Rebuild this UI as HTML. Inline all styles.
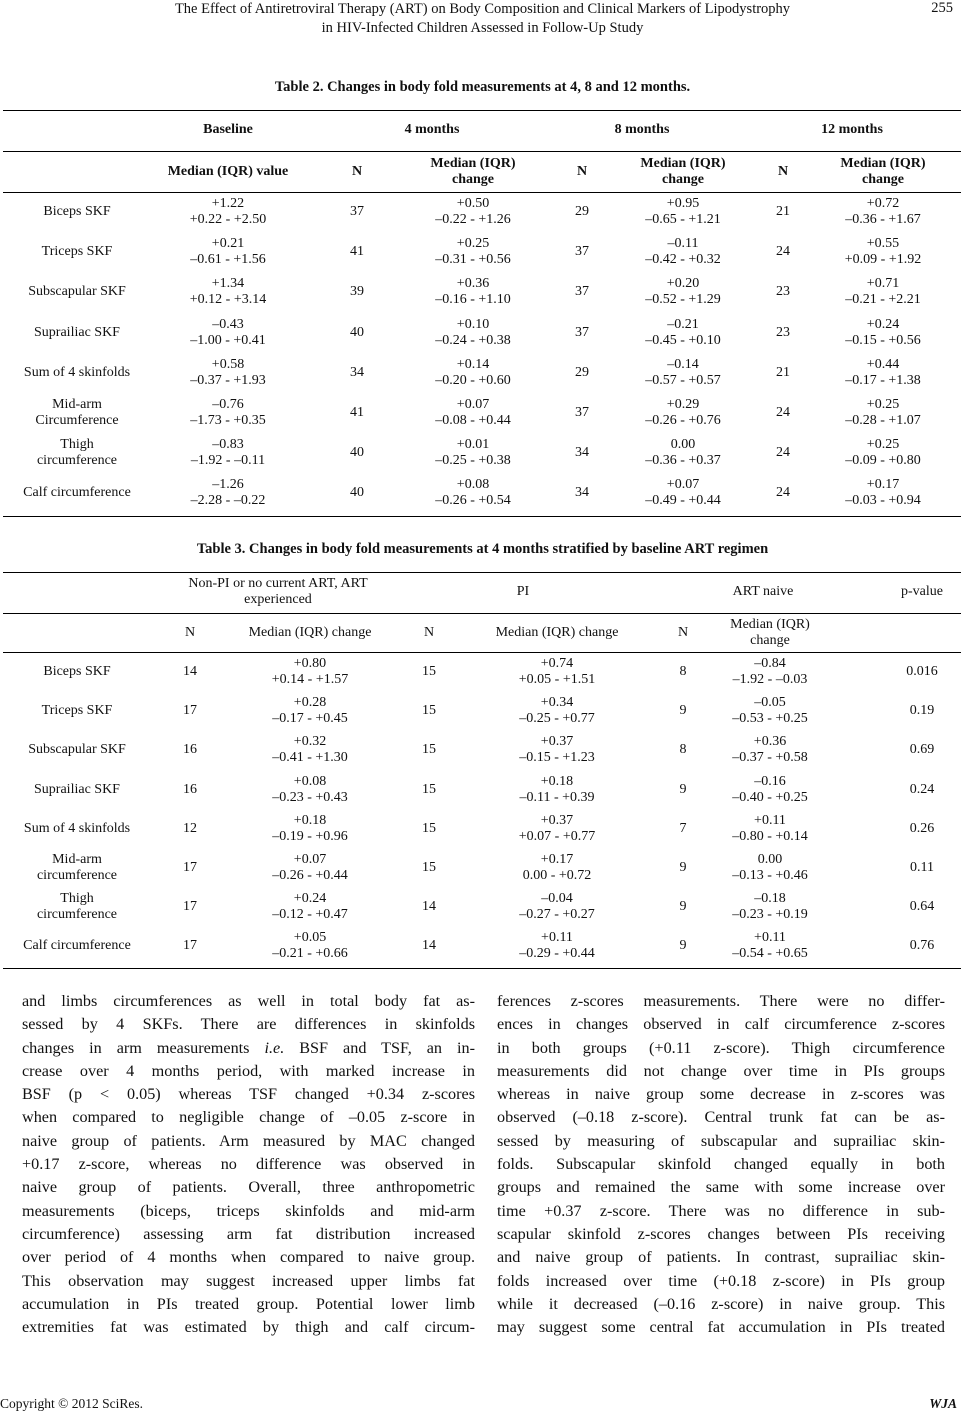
<!DOCTYPE html>
<html><head><meta charset="utf-8">
<style>
body{margin:0;width:965px;height:1414px;position:relative;background:#fff;font-family:"Liberation Serif",serif;color:#111;overflow:hidden}
.a{position:absolute}
.c{position:absolute;transform:translate(-50%,-50%);text-align:center;font-size:14px;line-height:16px;white-space:nowrap}
.b{font-weight:bold}
.hl{position:absolute;height:1.3px;background:#000}
.col{position:absolute;font-size:16.2px;line-height:23.3px}
.col div{text-align:justify;text-align-last:justify;white-space:nowrap;height:23.3px}
</style></head><body>
<div class="a" style="left:0;width:965px;top:0;text-align:center;font-size:14.5px;line-height:19px">The Effect of Antiretroviral Therapy (ART) on Body Composition and Clinical Markers of Lipodystrophy<br>in HIV-Infected Children Assessed in Follow-Up Study</div>
<div class="a" style="right:12px;top:0;font-size:14.5px">255</div>
<div class="a b" style="left:0;width:965px;top:79px;text-align:center;font-size:14.5px">Table 2. Changes in body fold measurements at 4, 8 and 12 months.</div>
<div class="a b" style="left:0;width:965px;top:541px;text-align:center;font-size:14.5px">Table 3. Changes in body fold measurements at 4 months stratified by baseline ART regimen</div>
<div id="t"></div>
<div class="col" style="left:22px;width:453px;top:990px">
<div>and limbs circumferences as well in total body fat as-</div>
<div>sessed by 4 SKFs. There are differences in skinfolds</div>
<div>changes in arm measurements <i>i.e.</i> BSF and TSF, an in-</div>
<div>crease over 4 months period, with marked increase in</div>
<div>BSF (p &lt; 0.05) whereas TSF changed +0.34 z-scores</div>
<div>when compared to negligible change of –0.05 z-score in</div>
<div>naive group of patients. Arm measured by MAC changed</div>
<div>+0.17 z-score, whereas no difference was observed in</div>
<div>naive group of patients. Overall, three anthropometric</div>
<div>measurements (biceps, triceps skinfolds and mid-arm</div>
<div>circumference) assessing arm fat distribution increased</div>
<div>over period of 4 months when compared to naive group.</div>
<div>This observation may suggest increased upper limbs fat</div>
<div>accumulation in PIs treated group. Potential lower limb</div>
<div>extremities fat was estimated by thigh and calf circum-</div>
</div>
<div class="col" style="left:497px;width:448px;top:990px">
<div>ferences z-scores measurements. There were no differ-</div>
<div>ences in changes observed in calf circumference z-scores</div>
<div>in both groups (+0.11 z-score). Thigh circumference</div>
<div>measurements did not change over time in PIs groups</div>
<div>whereas in naive group some decrease in z-scores was</div>
<div>observed (–0.18 z-score). Central trunk fat can be as-</div>
<div>sessed by measuring of subscapular and suprailiac skin-</div>
<div>folds. Subscapular skinfold changed equally in both</div>
<div>groups and remained the same with some increase over</div>
<div>time +0.37 z-score. There was no difference in sub-</div>
<div>scapular skinfold z-scores changes between PIs receiving</div>
<div>and naive group of patients. In contrast, suprailiac skin-</div>
<div>folds increased over time (+0.18 z-score) in PIs group</div>
<div>while it decreased (–0.16 z-score) in naive group. This</div>
<div>may suggest some central fat accumulation in PIs treated</div>
</div>
<div class="a" style="left:0;top:1396px;font-size:13.5px">Copyright © 2012 SciRes.</div>
<div class="a b" style="right:8px;top:1396px;font-size:13.5px;font-style:italic">WJA</div>
<script>
const T=document.getElementById('t');
function cell(x,y,txt,bold,name){const d=document.createElement('div');d.className='c'+(bold?' b':'');d.style.left=x+'px';d.style.top=y+'px';d.innerHTML=txt;


T.appendChild(d);}
function line(y,name){const d=document.createElement('div');d.className='hl';d.style.left='3px';d.style.width='958px';d.style.top=y+'px';


T.appendChild(d);}
// Table 2
[110,151,192,516].forEach(y=>line(y,'table2-rule'));
[[228,'Baseline'],[432,'4 months'],[642,'8 months'],[852,'12 months']].forEach(h=>cell(h[0],130,h[1],1,'table2-group-header'));
const x2=[77,228,357,473,582,683,783,883];
[[x2[1],'Median (IQR) value'],[x2[2],'N'],[x2[3],'Median (IQR)<br>change'],[x2[4],'N'],[x2[5],'Median (IQR)<br>change'],[x2[6],'N'],[x2[7],'Median (IQR)<br>change']].forEach(h=>cell(h[0],172,h[1],1,'table2-column-header'));
const t2=[
['Biceps SKF','+1.22<br>+0.22 - +2.50','37','+0.50<br>–0.22 - +1.26','29','+0.95<br>–0.65 - +1.21','21','+0.72<br>–0.36 - +1.67'],
['Triceps SKF','+0.21<br>–0.61 - +1.56','41','+0.25<br>–0.31 - +0.56','37','–0.11<br>–0.42 - +0.32','24','+0.55<br>+0.09 - +1.92'],
['Subscapular SKF','+1.34<br>+0.12 - +3.14','39','+0.36<br>–0.16 - +1.10','37','+0.20<br>–0.52 - +1.29','23','+0.71<br>–0.21 - +2.21'],
['Suprailiac SKF','–0.43<br>–1.00 - +0.41','40','+0.10<br>–0.24 - +0.38','37','–0.21<br>–0.45 - +0.10','23','+0.24<br>–0.15 - +0.56'],
['Sum of 4 skinfolds','+0.58<br>–0.37 - +1.93','34','+0.14<br>–0.20 - +0.60','29','–0.14<br>–0.57 - +0.57','21','+0.44<br>–0.17 - +1.38'],
['Mid-arm<br>Circumference','–0.76<br>–1.73 - +0.35','41','+0.07<br>–0.08 - +0.44','37','+0.29<br>–0.26 - +0.76','24','+0.25<br>–0.28 - +1.07'],
['Thigh<br>circumference','–0.83<br>–1.92 - –0.11','40','+0.01<br>–0.25 - +0.38','34','0.00<br>–0.36 - +0.37','24','+0.25<br>–0.09 - +0.80'],
['Calf circumference','–1.26<br>–2.28 - –0.22','40','+0.08<br>–0.26 - +0.54','34','+0.07<br>–0.49 - +0.44','24','+0.17<br>–0.03 - +0.94']];
t2.forEach((r,i)=>r.forEach((v,j)=>cell(x2[j],212+i*40.2,v,0,'table2-cell')));
// Table 3
[572,613,652,968].forEach(y=>line(y,'table3-rule'));
[[278,'Non-PI or no current ART, ART<br>experienced'],[523,'PI'],[763,'ART naive'],[922,'p-value']].forEach(h=>cell(h[0],592,h[1],0,'table3-group-header'));
const x3=[77,190,310,429,557,683,770,922];
[[x3[1],'N'],[x3[2],'Median (IQR) change'],[x3[3],'N'],[x3[4],'Median (IQR) change'],[x3[5],'N'],[x3[6],'Median (IQR)<br>change']].forEach(h=>cell(h[0],633,h[1],0,'table3-column-header'));
const t3=[
['Biceps SKF','14','+0.80<br>+0.14 - +1.57','15','+0.74<br>+0.05 - +1.51','8','–0.84<br>–1.92 - –0.03','0.016'],
['Triceps SKF','17','+0.28<br>–0.17 - +0.45','15','+0.34<br>–0.25 - +0.77','9','–0.05<br>–0.53 - +0.25','0.19'],
['Subscapular SKF','16','+0.32<br>–0.41 - +1.30','15','+0.37<br>–0.15 - +1.23','8','+0.36<br>–0.37 - +0.58','0.69'],
['Suprailiac SKF','16','+0.08<br>–0.23 - +0.43','15','+0.18<br>–0.11 - +0.39','9','–0.16<br>–0.40 - +0.25','0.24'],
['Sum of 4 skinfolds','12','+0.18<br>–0.19 - +0.96','15','+0.37<br>+0.07 - +0.77','7','+0.11<br>–0.80 - +0.14','0.26'],
['Mid-arm<br>circumference','17','+0.07<br>–0.26 - +0.44','15','+0.17<br>0.00 - +0.72','9','0.00<br>–0.13 - +0.46','0.11'],
['Thigh<br>circumference','17','+0.24<br>–0.12 - +0.47','14','–0.04<br>–0.27 - +0.27','9','–0.18<br>–0.23 - +0.19','0.64'],
['Calf circumference','17','+0.05<br>–0.21 - +0.66','14','+0.11<br>–0.29 - +0.44','9','+0.11<br>–0.54 - +0.65','0.76']];
t3.forEach((r,i)=>r.forEach((v,j)=>cell(x3[j],672+i*39.2,v,0,'table3-cell')));
</script>
</body></html>
